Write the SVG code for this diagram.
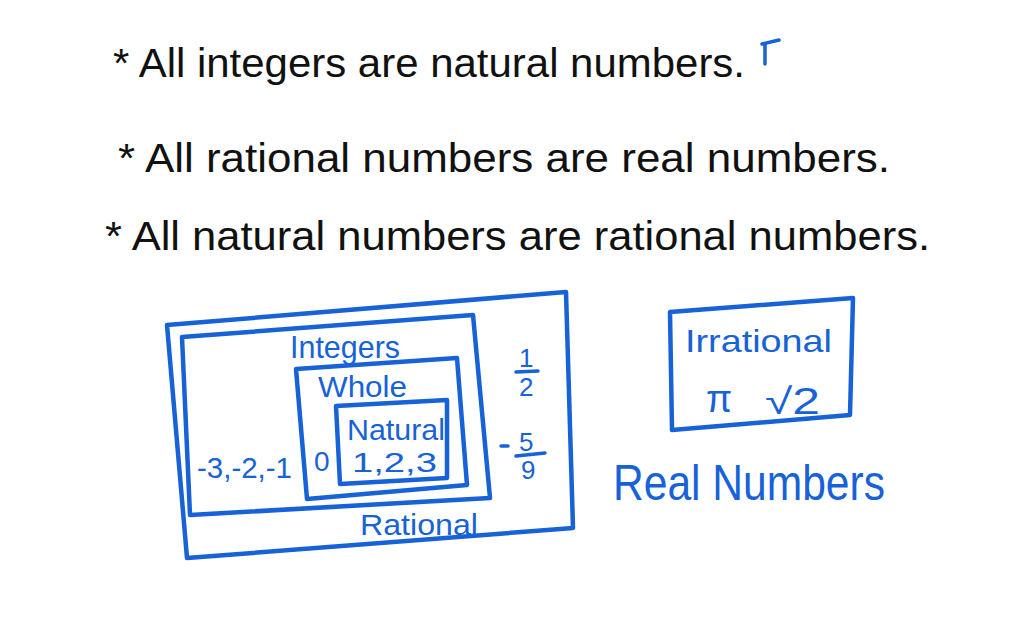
<svg xmlns="http://www.w3.org/2000/svg" width="1024" height="644" viewBox="0 0 1024 644">
<style>
.bk{font-family:"Liberation Sans",Arial,sans-serif;fill:#111;font-size:40px}
.bl{font-family:"Liberation Sans",Arial,sans-serif;fill:#1762d6}
.box{fill:none;stroke:#1762d6;stroke-width:4.5;stroke-linejoin:round;stroke-linecap:round}
.ln{fill:none;stroke:#1762d6;stroke-width:3.5;stroke-linecap:round}
</style>
<rect width="1024" height="644" fill="#fff"/>
<g id="statements">
<text class="bk" x="113" y="77" textLength="632" lengthAdjust="spacingAndGlyphs">* All integers are natural numbers.</text>
<text class="bk" x="118" y="172" textLength="772" lengthAdjust="spacingAndGlyphs">* All rational numbers are real numbers.</text>
<text class="bk" x="105" y="250" textLength="825" lengthAdjust="spacingAndGlyphs">* All natural numbers are rational numbers.</text>
<path class="ln" d="M762,44 L779,40 M765,44 L765,64"/>
</g>
<g id="rational">
<polygon class="box" points="167,325 566,292 573,528 187,558"/>
<text class="bl" x="360" y="535" font-size="30" textLength="118" lengthAdjust="spacingAndGlyphs">Rational</text>
<text class="bl" x="519" y="367" font-size="26">1</text>
<line class="ln" x1="516" y1="372" x2="538" y2="371"/>
<text class="bl" x="519" y="396" font-size="26">2</text>
<line class="ln" x1="501" y1="446" x2="508" y2="446"/>
<text class="bl" x="519" y="451" font-size="26">5</text>
<line class="ln" x1="516" y1="456" x2="545" y2="453"/>
<text class="bl" x="521" y="479" font-size="26">9</text>
</g>
<g id="integers">
<polygon class="box" points="182,337 473,315 490,498 190,515"/>
<text class="bl" x="290" y="358" font-size="32" textLength="110" lengthAdjust="spacingAndGlyphs">Integers</text>
<text class="bl" x="197" y="478" font-size="30" textLength="95" lengthAdjust="spacingAndGlyphs">-3,-2,-1</text>
</g>
<g id="whole">
<polygon class="box" points="296,369 457,358 467,485 307,499"/>
<text class="bl" x="318" y="397" font-size="30" textLength="89" lengthAdjust="spacingAndGlyphs">Whole</text>
<text class="bl" x="314" y="471" font-size="28">0</text>
</g>
<g id="natural">
<polygon class="box" points="336,406 447,400 447,478 340,484"/>
<text class="bl" x="347" y="440" font-size="30" textLength="98" lengthAdjust="spacingAndGlyphs">Natural</text>
<text class="bl" x="352" y="472" font-size="28" textLength="85" lengthAdjust="spacingAndGlyphs">1,2,3</text>
</g>
<g id="irrational">
<polygon class="box" points="670,312 853,298 850,415 672,430"/>
<text class="bl" x="685" y="352" font-size="32" textLength="147" lengthAdjust="spacingAndGlyphs">Irrational</text>
<text class="bl" x="706" y="412" font-size="38">π</text>
<text class="bl" x="765" y="414" font-size="36" textLength="55" lengthAdjust="spacingAndGlyphs">√2</text>
</g>
<g id="real">
<text class="bl" x="613" y="500" font-size="50" textLength="272" lengthAdjust="spacingAndGlyphs">Real Numbers</text>
</g>
<g id="connectors"></g>
</svg>
